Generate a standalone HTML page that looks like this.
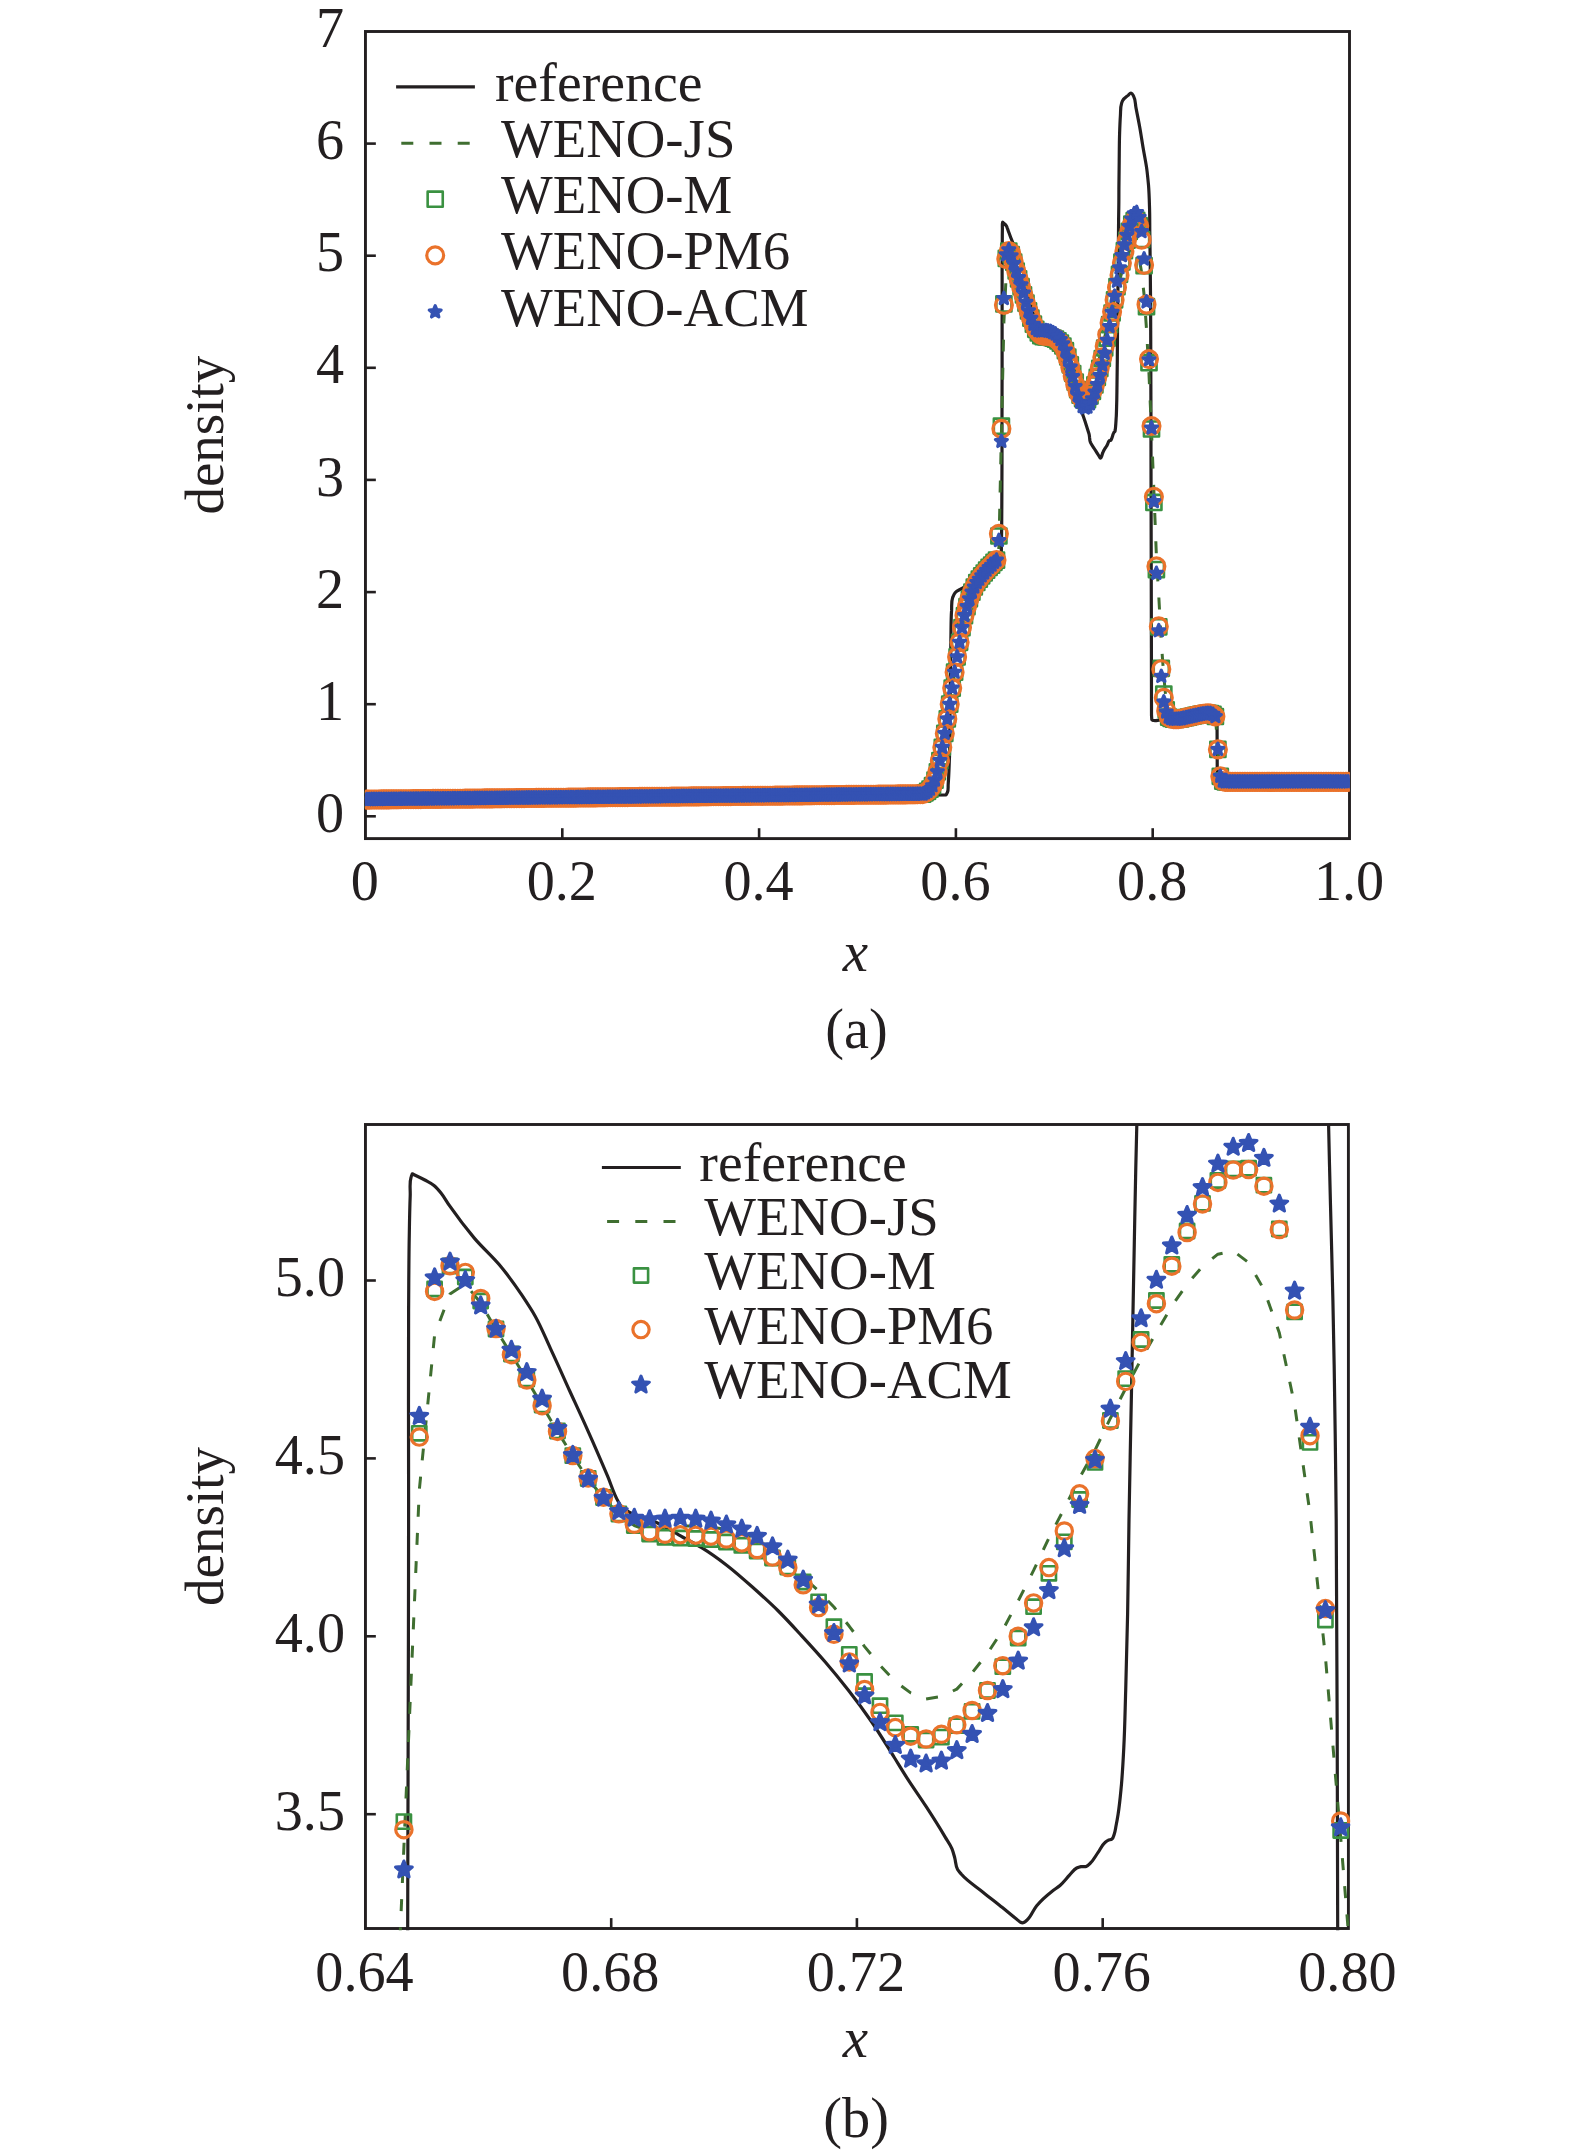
<!DOCTYPE html>
<html lang="en"><head><meta charset="utf-8"><title>density</title>
<style>html,body{margin:0;padding:0;background:#fff}svg{display:block}text{font-family:"Liberation Serif",serif;font-size:55.0px;fill:#231f20}.t{font-size:56.2px}.r{font-size:55.8px}.w{font-size:54.8px}.i{font-style:italic;font-size:57px}.c{font-size:56.3px}.fr{fill:none;stroke:#231f20;stroke-width:2.9}.tk{stroke:#231f20;stroke-width:2.6;fill:none}.rf{fill:none;stroke:#231f20;stroke-width:3.2;stroke-linejoin:round}.js{fill:none;stroke:#3f6e30;stroke-width:3;stroke-dasharray:12 16.2;stroke-linejoin:round}.m{fill:none;stroke:none}</style></head><body>
<svg width="1575" height="2154" viewBox="0 0 1575 2154">
<rect width="1575" height="2154" fill="#fff"/>
<defs>
<marker id="qa" markerUnits="userSpaceOnUse" markerWidth="30" markerHeight="30" refX="0" refY="0" viewBox="-15 -15 30 30" overflow="visible" orient="0"><rect x="-7.55" y="-7.55" width="15.1" height="15.1" fill="none" stroke="#3a9141" stroke-width="2.6" stroke-linejoin="round"/></marker>
<marker id="ca" markerUnits="userSpaceOnUse" markerWidth="30" markerHeight="30" refX="0" refY="0" viewBox="-15 -15 30 30" overflow="visible" orient="0"><circle r="8.45" fill="none" stroke="#ea722b" stroke-width="3.2"/></marker>
<marker id="sa" markerUnits="userSpaceOnUse" markerWidth="30" markerHeight="30" refX="0" refY="0" viewBox="-15 -15 30 30" overflow="visible" orient="0"><path d="M0.00,-6.30L1.63,-2.24L5.99,-1.95L2.64,0.86L3.70,5.10L0.00,2.77L-3.70,5.10L-2.64,0.86L-5.99,-1.95L-1.63,-2.24Z" fill="#3452b3" stroke="#3452b3" stroke-width="3.1" stroke-linejoin="round"/></marker>
<marker id="qb" markerUnits="userSpaceOnUse" markerWidth="30" markerHeight="30" refX="0" refY="0" viewBox="-15 -15 30 30" overflow="visible" orient="0"><rect x="-7.1" y="-7.1" width="14.2" height="14.2" fill="none" stroke="#3a9141" stroke-width="2.6" stroke-linejoin="round"/></marker>
<marker id="cb" markerUnits="userSpaceOnUse" markerWidth="30" markerHeight="30" refX="0" refY="0" viewBox="-15 -15 30 30" overflow="visible" orient="0"><circle r="8.15" fill="none" stroke="#ea722b" stroke-width="3.2"/></marker>
<marker id="sb" markerUnits="userSpaceOnUse" markerWidth="30" markerHeight="30" refX="0" refY="0" viewBox="-15 -15 30 30" overflow="visible" orient="0"><path d="M0.00,-8.80L2.28,-3.13L8.37,-2.72L3.68,1.20L5.17,7.12L0.00,3.87L-5.17,7.12L-3.68,1.20L-8.37,-2.72L-2.28,-3.13Z" fill="#3452b3" stroke="#3452b3" stroke-width="3.1" stroke-linejoin="round"/></marker>
<clipPath id="clipA"><rect x="364.9" y="30.1" width="984.9" height="809.9"/></clipPath>
<clipPath id="clipB"><rect x="364.9" y="1123.0" width="985.6" height="807.2"/></clipPath>
</defs>
<g id="panel-a">
<rect class="fr" x="365.45" y="31.5" width="984.05" height="807.1"/>
<path class="tk" d="M365.45 816.3h10.4"/>
<path class="tk" d="M365.45 704.2h10.4"/>
<path class="tk" d="M365.45 592.1h10.4"/>
<path class="tk" d="M365.45 479.9h10.4"/>
<path class="tk" d="M365.45 367.8h10.4"/>
<path class="tk" d="M365.45 255.7h10.4"/>
<path class="tk" d="M365.45 143.6h10.4"/>
<path class="tk" d="M562.3 838.6v-10.4"/>
<path class="tk" d="M759.1 838.6v-10.4"/>
<path class="tk" d="M955.9 838.6v-10.4"/>
<path class="tk" d="M1152.7 838.6v-10.4"/>
<g clip-path="url(#clipA)">
<path class="rf" d="M365.4 799.5C545.9 798.1 726.3 796.6 906.7 795.2C919.8 795.1 932.9 795.1 946.0 795.0C946.5 794.1 947.1 793.2 947.5 792.2C948.5 789.7 948.0 787.0 948.2 784.3C948.9 775.1 949.1 765.7 949.5 756.4C949.9 717.0 950.4 677.5 950.9 638.0C951.1 628.8 950.9 619.5 951.6 610.2C951.8 606.0 951.2 601.6 952.6 597.7C953.3 595.9 953.9 594.1 955.1 592.7C956.7 590.8 959.2 590.0 961.4 588.7C962.3 588.2 963.2 587.7 964.1 587.1C968.2 584.7 971.9 581.6 975.6 578.6C979.0 575.8 982.1 572.6 985.4 569.6C988.7 566.6 992.0 563.7 995.2 560.7C997.3 558.8 999.3 556.9 1001.3 555.1C1001.5 545.0 1001.6 534.9 1001.7 524.8C1001.8 503.1 1002.0 481.4 1002.0 459.7C1002.0 446.3 1002.0 432.9 1002.0 419.4C1002.1 402.6 1002.1 385.8 1002.1 369.0C1002.1 354.3 1002.1 339.6 1002.1 324.9C1002.2 304.9 1002.1 285.0 1002.1 265.0C1002.2 257.0 1002.2 249.0 1002.3 241.0C1002.3 237.1 1002.3 233.1 1002.4 229.1C1002.4 227.1 1002.2 225.1 1002.5 223.1C1002.6 222.7 1002.7 222.4 1002.7 222.1C1003.4 222.7 1004.1 223.3 1004.7 224.0C1005.3 224.6 1005.8 225.2 1006.3 225.8C1006.7 226.5 1007.0 227.3 1007.3 228.1C1007.9 229.4 1008.2 230.8 1008.7 232.1C1009.9 235.6 1011.2 239.0 1012.7 242.3C1014.0 245.4 1015.7 248.3 1016.9 251.4C1018.2 254.3 1019.3 257.3 1020.3 260.3C1021.0 262.5 1021.8 264.7 1022.4 266.9C1023.4 270.3 1024.1 273.8 1024.9 277.2C1025.9 281.6 1026.9 286.0 1027.9 290.4C1028.9 294.8 1030.0 299.2 1031.0 303.6C1032.0 308.2 1033.0 312.8 1034.0 317.4C1034.6 320.0 1034.9 322.7 1035.7 325.3C1035.9 326.0 1036.0 326.7 1036.3 327.2C1036.6 327.8 1037.1 328.2 1037.5 328.7C1038.1 329.4 1038.9 329.8 1039.7 330.4C1040.4 330.9 1041.2 331.4 1041.9 332.0C1042.5 332.5 1043.1 333.2 1043.7 333.8C1044.3 334.5 1044.8 335.2 1045.4 335.9C1046.6 337.2 1047.9 338.5 1049.1 339.9C1050.6 341.6 1051.9 343.6 1053.1 345.5C1054.6 347.7 1055.9 350.0 1057.2 352.3C1058.6 354.7 1060.0 357.2 1061.3 359.7C1062.6 362.3 1063.8 365.0 1065.1 367.6C1066.4 370.4 1067.7 373.2 1069.0 376.1C1070.2 379.0 1071.5 381.9 1072.6 384.9C1073.9 388.1 1075.1 391.4 1076.3 394.7C1077.6 398.4 1078.7 402.2 1079.9 406.0C1080.6 408.2 1081.3 410.3 1082.0 412.5C1083.0 415.5 1084.1 418.5 1085.1 421.5C1086.1 424.7 1087.1 427.9 1088.1 431.1C1088.5 432.3 1088.9 433.5 1089.2 434.7C1089.4 435.7 1089.5 436.7 1089.6 437.7C1089.8 438.9 1089.7 440.2 1090.1 441.3C1090.3 441.8 1090.5 442.3 1090.7 442.8C1091.6 444.9 1093.0 446.6 1094.2 448.5C1095.2 450.1 1096.3 451.7 1097.3 453.3C1098.1 454.6 1098.9 455.9 1099.7 457.2C1099.9 457.5 1099.9 457.7 1100.2 457.9C1100.3 458.0 1100.3 458.1 1100.5 458.1C1100.6 458.1 1100.7 458.0 1100.8 457.9C1101.0 457.7 1101.1 457.5 1101.2 457.2C1102.0 455.9 1102.1 454.2 1102.8 452.7C1103.4 451.1 1104.3 449.6 1105.2 448.2C1105.6 447.6 1106.1 447.0 1106.5 446.3C1107.1 445.3 1107.5 444.2 1108.0 443.1C1108.4 442.3 1108.5 441.4 1109.2 440.8C1109.4 440.7 1109.6 440.5 1109.9 440.4C1110.1 440.3 1110.4 440.5 1110.7 440.3C1111.0 440.2 1111.1 439.7 1111.3 439.4C1111.9 438.3 1112.2 437.1 1112.6 435.9C1113.0 434.9 1113.1 433.7 1113.7 432.8C1113.8 432.6 1114.0 432.3 1114.2 432.1C1114.4 431.9 1114.6 431.9 1114.8 431.7C1115.2 431.3 1115.1 430.6 1115.2 430.1C1115.3 429.3 1115.4 428.4 1115.5 427.6C1115.6 426.4 1115.7 425.1 1115.8 423.9C1116.0 421.3 1116.1 418.7 1116.3 416.1C1116.5 411.7 1116.6 407.3 1116.7 402.9C1116.9 396.9 1116.9 390.9 1117.0 384.9C1117.1 376.9 1117.2 368.9 1117.3 360.9C1117.4 351.0 1117.5 341.1 1117.5 331.2C1117.7 318.1 1117.8 305.1 1117.9 292.0C1118.1 276.0 1118.2 260.0 1118.4 244.0C1118.5 236.0 1118.5 228.0 1118.6 220.0C1118.7 215.6 1118.7 211.2 1118.8 206.8C1118.9 200.7 1118.9 194.5 1118.9 188.4C1119.0 179.5 1119.1 170.5 1119.2 161.5C1119.3 152.2 1119.3 142.8 1119.6 133.5C1119.8 127.5 1120.0 121.5 1120.4 115.5C1120.7 111.4 1120.3 107.1 1121.6 103.2C1121.9 102.3 1122.2 101.4 1122.7 100.5C1123.9 98.3 1126.2 97.0 1128.1 95.4C1129.0 94.6 1129.8 93.0 1131.0 93.0C1132.6 93.1 1133.0 95.4 1133.8 96.7C1135.7 100.0 1135.2 104.2 1136.0 107.9C1137.2 114.1 1138.5 120.3 1139.6 126.5C1140.9 133.6 1141.9 140.7 1143.1 147.8C1144.3 154.9 1145.8 162.0 1146.8 169.1C1147.5 174.4 1148.0 179.7 1148.5 185.0C1149.1 192.2 1149.3 199.5 1149.5 206.8C1149.8 215.2 1149.7 223.6 1149.8 232.0C1149.9 242.0 1150.1 252.0 1150.2 262.0C1150.4 276.0 1150.5 290.0 1150.6 304.0C1150.6 313.0 1150.7 322.0 1150.7 331.0C1151.0 373.9 1150.9 416.8 1151.0 459.7C1151.1 522.5 1151.3 585.3 1151.4 648.1C1151.4 670.5 1151.5 693.0 1151.5 715.4C1151.6 716.8 1151.7 718.2 1151.8 719.7C1152.3 719.9 1152.7 720.2 1153.2 720.4C1155.3 721.4 1157.8 720.0 1160.1 719.9C1167.4 719.4 1174.9 720.5 1182.2 719.7C1188.9 718.9 1195.3 716.6 1201.9 715.4C1206.5 714.5 1211.0 713.2 1215.7 713.1C1216.1 713.1 1216.6 713.1 1217.0 713.1C1217.1 736.1 1217.2 759.0 1217.3 781.9C1261.4 781.9 1305.4 781.9 1349.5 781.9"/>
<polyline class="js" points="366.7,799.6 369.1,799.6 371.6,799.5 374.1,799.5 376.5,799.5 379,799.5 381.4,799.4 383.9,799.4 386.4,799.4 388.8,799.4 391.3,799.3 393.7,799.3 396.2,799.3 398.7,799.3 401.1,799.2 403.6,799.2 406,799.2 408.5,799.2 411,799.2 413.4,799.1 415.9,799.1 418.3,799.1 420.8,799.1 423.3,799 425.7,799 428.2,799 430.6,799 433.1,798.9 435.6,798.9 438,798.9 440.5,798.9 442.9,798.8 445.4,798.8 447.9,798.8 450.3,798.8 452.8,798.7 455.2,798.7 457.7,798.7 460.2,798.7 462.6,798.7 465.1,798.6 467.5,798.6 470,798.6 472.5,798.6 474.9,798.5 477.4,798.5 479.8,798.5 482.3,798.5 484.8,798.4 487.2,798.4 489.7,798.4 492.1,798.4 494.6,798.3 497.1,798.3 499.5,798.3 502,798.3 504.4,798.2 506.9,798.2 509.4,798.2 511.8,798.2 514.3,798.2 516.7,798.1 519.2,798.1 521.7,798.1 524.1,798.1 526.6,798 529,798 531.5,798 534,798 536.4,797.9 538.9,797.9 541.3,797.9 543.8,797.9 546.3,797.8 548.7,797.8 551.2,797.8 553.6,797.8 556.1,797.7 558.6,797.7 561,797.7 563.5,797.7 566,797.7 568.4,797.6 570.9,797.6 573.3,797.6 575.8,797.6 578.3,797.5 580.7,797.5 583.2,797.5 585.6,797.5 588.1,797.4 590.6,797.4 593,797.4 595.5,797.4 597.9,797.3 600.4,797.3 602.9,797.3 605.3,797.3 607.8,797.2 610.2,797.2 612.7,797.2 615.2,797.2 617.6,797.2 620.1,797.1 622.5,797.1 625,797.1 627.5,797.1 629.9,797 632.4,797 634.8,797 637.3,797 639.8,796.9 642.2,796.9 644.7,796.9 647.1,796.9 649.6,796.8 652.1,796.8 654.5,796.8 657,796.8 659.4,796.7 661.9,796.7 664.4,796.7 666.8,796.7 669.3,796.7 671.7,796.6 674.2,796.6 676.7,796.6 679.1,796.6 681.6,796.5 684,796.5 686.5,796.5 689,796.5 691.4,796.4 693.9,796.4 696.3,796.4 698.8,796.4 701.3,796.3 703.7,796.3 706.2,796.3 708.6,796.3 711.1,796.2 713.6,796.2 716,796.2 718.5,796.2 720.9,796.2 723.4,796.1 725.9,796.1 728.3,796.1 730.8,796.1 733.2,796 735.7,796 738.2,796 740.6,796 743.1,795.9 745.5,795.9 748,795.9 750.5,795.9 752.9,795.8 755.4,795.8 757.8,795.8 760.3,795.8 762.8,795.7 765.2,795.7 767.7,795.7 770.1,795.7 772.6,795.7 775.1,795.6 777.5,795.6 780,795.6 782.4,795.6 784.9,795.5 787.4,795.5 789.8,795.5 792.3,795.5 794.7,795.4 797.2,795.4 799.7,795.4 802.1,795.4 804.6,795.3 807,795.3 809.5,795.3 812,795.3 814.4,795.2 816.9,795.2 819.3,795.2 821.8,795.2 824.3,795.2 826.7,795.1 829.2,795.1 831.6,795.1 834.1,795.1 836.6,795 839,795 841.5,795 843.9,795 846.4,794.9 848.9,794.9 851.3,794.9 853.8,794.9 856.2,794.8 858.7,794.8 861.2,794.8 863.6,794.8 866.1,794.7 868.5,794.7 871,794.7 873.5,794.7 875.9,794.7 878.4,794.6 880.8,794.6 883.3,794.6 885.8,794.6 888.2,794.5 890.7,794.5 893.1,794.5 895.6,794.5 898.1,794.4 900.5,794.4 903,794.4 905.4,794.4 907.9,794.3 910.4,794.3 912.8,790.9 915.3,790.9 917.7,790.9 920.2,790.9 922.7,790.8 925.1,789.4 927.6,787.9 930,785.8 932.5,782.3 935,776.7 937.4,768.4 939.9,757.2 942.3,747.3 944.8,733.4 947.3,718.9 949.7,704.2 952.2,688.1 954.6,672.2 957.1,656.9 959.6,642.3 962,627.6 964.5,615.6 967,606.6 969.4,598.8 971.9,592.1 974.3,587 976.8,582.5 979.3,579.2 981.7,575.8 984.2,573 986.6,570.2 989.1,567.4 991.6,565.2 994,562.3 996.5,560.1 998.9,547.2 1001.4,434.2 1003.9,321.7 1006.3,272.9 1008.8,260 1011.2,256.8 1013.7,262.8 1016.2,271.1 1018.6,279 1021.1,286.9 1023.5,295.1 1026,303.3 1028.5,311 1030.9,318.3 1033.4,324.2 1035.8,329.4 1038.3,332.9 1040.8,334.6 1043.2,333.4 1045.7,333.1 1048.1,333.1 1050.6,333.4 1053.1,334.2 1055.5,335.4 1058,337.5 1060.4,340.2 1062.9,344.1 1065.4,349.1 1067.8,353.5 1070.3,358.6 1072.7,364.7 1075.2,371.1 1077.7,377 1080.1,382 1082.6,385.6 1085,387.6 1087.5,386.8 1090,384.5 1092.4,379.4 1094.9,373.2 1097.3,365.8 1099.8,356.7 1102.3,347 1104.7,336.8 1107.2,327.5 1109.6,317.9 1112.1,309.2 1114.6,299.1 1117,289.7 1119.5,280.6 1121.9,272.1 1124.4,263.8 1126.9,256.9 1129.3,251.3 1131.8,247.4 1134.2,246.4 1136.7,250 1139.2,258.5 1141.6,272.2 1144.1,294.8 1146.5,329.1 1149,374.2 1151.5,431.2 1153.9,491.2 1156.4,556.2 1158.8,596.5 1161.3,642.5 1163.8,676.1 1166.2,701.9 1168.7,713.1 1171.1,718.5 1173.6,719.2 1176.1,719.3 1178.5,719.1 1181,718.8 1183.4,718.2 1185.9,717.6 1188.4,717.1 1190.8,716.5 1193.3,716 1195.7,715.4 1198.2,714.8 1200.7,714.3 1203.1,713.9 1205.6,713.6 1208,713.4 1210.5,713.5 1213,714.3 1215.4,716.5 1217.9,749.4 1220.3,776.3 1222.8,781.1 1225.3,781.9 1227.7,781.9 1230.2,781.9 1232.6,781.9 1235.1,781.9 1237.6,781.9 1240,781.9 1242.5,781.9 1244.9,781.9 1247.4,781.9 1249.9,781.9 1252.3,781.9 1254.8,781.9 1257.2,781.9 1259.7,781.9 1262.2,781.9 1264.6,781.9 1267.1,781.9 1269.5,781.9 1272,781.9 1274.5,781.9 1276.9,781.9 1279.4,781.9 1281.8,781.9 1284.3,781.9 1286.8,781.9 1289.2,781.9 1291.7,781.9 1294.1,781.9 1296.6,781.9 1299.1,781.9 1301.5,781.9 1304,781.9 1306.4,781.9 1308.9,781.9 1311.4,781.9 1313.8,781.9 1316.3,781.9 1318.7,781.9 1321.2,781.9 1323.7,781.9 1326.1,781.9 1328.6,781.9 1331,781.9 1333.5,781.9 1336,781.9 1338.4,781.9 1340.9,781.9 1343.3,781.9 1345.8,781.9 1348.3,781.9"/>
<polyline class="m" marker-start="url(#qa)" marker-mid="url(#qa)" marker-end="url(#qa)" points="366.7,799.6 369.1,799.6 371.6,799.5 374.1,799.5 376.5,799.5 379,799.5 381.4,799.4 383.9,799.4 386.4,799.4 388.8,799.4 391.3,799.3 393.7,799.3 396.2,799.3 398.7,799.3 401.1,799.2 403.6,799.2 406,799.2 408.5,799.2 411,799.2 413.4,799.1 415.9,799.1 418.3,799.1 420.8,799.1 423.3,799 425.7,799 428.2,799 430.6,799 433.1,798.9 435.6,798.9 438,798.9 440.5,798.9 442.9,798.8 445.4,798.8 447.9,798.8 450.3,798.8 452.8,798.7 455.2,798.7 457.7,798.7 460.2,798.7 462.6,798.7 465.1,798.6 467.5,798.6 470,798.6 472.5,798.6 474.9,798.5 477.4,798.5 479.8,798.5 482.3,798.5 484.8,798.4 487.2,798.4 489.7,798.4 492.1,798.4 494.6,798.3 497.1,798.3 499.5,798.3 502,798.3 504.4,798.2 506.9,798.2 509.4,798.2 511.8,798.2 514.3,798.2 516.7,798.1 519.2,798.1 521.7,798.1 524.1,798.1 526.6,798 529,798 531.5,798 534,798 536.4,797.9 538.9,797.9 541.3,797.9 543.8,797.9 546.3,797.8 548.7,797.8 551.2,797.8 553.6,797.8 556.1,797.7 558.6,797.7 561,797.7 563.5,797.7 566,797.7 568.4,797.6 570.9,797.6 573.3,797.6 575.8,797.6 578.3,797.5 580.7,797.5 583.2,797.5 585.6,797.5 588.1,797.4 590.6,797.4 593,797.4 595.5,797.4 597.9,797.3 600.4,797.3 602.9,797.3 605.3,797.3 607.8,797.2 610.2,797.2 612.7,797.2 615.2,797.2 617.6,797.2 620.1,797.1 622.5,797.1 625,797.1 627.5,797.1 629.9,797 632.4,797 634.8,797 637.3,797 639.8,796.9 642.2,796.9 644.7,796.9 647.1,796.9 649.6,796.8 652.1,796.8 654.5,796.8 657,796.8 659.4,796.7 661.9,796.7 664.4,796.7 666.8,796.7 669.3,796.7 671.7,796.6 674.2,796.6 676.7,796.6 679.1,796.6 681.6,796.5 684,796.5 686.5,796.5 689,796.5 691.4,796.4 693.9,796.4 696.3,796.4 698.8,796.4 701.3,796.3 703.7,796.3 706.2,796.3 708.6,796.3 711.1,796.2 713.6,796.2 716,796.2 718.5,796.2 720.9,796.2 723.4,796.1 725.9,796.1 728.3,796.1 730.8,796.1 733.2,796 735.7,796 738.2,796 740.6,796 743.1,795.9 745.5,795.9 748,795.9 750.5,795.9 752.9,795.8 755.4,795.8 757.8,795.8 760.3,795.8 762.8,795.7 765.2,795.7 767.7,795.7 770.1,795.7 772.6,795.7 775.1,795.6 777.5,795.6 780,795.6 782.4,795.6 784.9,795.5 787.4,795.5 789.8,795.5 792.3,795.5 794.7,795.4 797.2,795.4 799.7,795.4 802.1,795.4 804.6,795.3 807,795.3 809.5,795.3 812,795.3 814.4,795.2 816.9,795.2 819.3,795.2 821.8,795.2 824.3,795.2 826.7,795.1 829.2,795.1 831.6,795.1 834.1,795.1 836.6,795 839,795 841.5,795 843.9,795 846.4,794.9 848.9,794.9 851.3,794.9 853.8,794.9 856.2,794.8 858.7,794.8 861.2,794.8 863.6,794.8 866.1,794.7 868.5,794.7 871,794.7 873.5,794.7 875.9,794.7 878.4,794.6 880.8,794.6 883.3,794.6 885.8,794.6 888.2,794.5 890.7,794.5 893.1,794.5 895.6,794.5 898.1,794.4 900.5,794.4 903,794.4 905.4,794.4 907.9,794.3 910.4,794.3 912.8,794.3 915.3,794.3 917.7,794.2 920.2,794.2 922.7,794.2 925.1,792.8 927.6,791.3 930,789.2 932.5,785.7 935,780.1 937.4,771.8 939.9,760.6 942.3,747.3 944.8,733.4 947.3,718.9 949.7,704.2 952.2,688.1 954.6,672.2 957.1,656.9 959.6,642.3 962,627.6 964.5,615.6 967,606.6 969.4,598.8 971.9,592.1 974.3,587 976.8,582.5 979.3,579.2 981.7,575.8 984.2,573 986.6,570.2 989.1,567.4 991.6,565.2 994,562.3 996.5,560.1 998.9,536 1001.4,426.2 1003.9,303.9 1006.3,258.4 1008.8,251.1 1011.2,254.6 1013.7,262.2 1016.2,271 1018.6,278.9 1021.1,286.7 1023.5,294.9 1026,303.1 1028.5,310.9 1030.9,318.1 1033.4,324.1 1035.8,329.3 1038.3,332.9 1040.8,335.6 1043.2,336.6 1045.7,336.8 1048.1,337 1050.6,337.3 1053.1,338.1 1055.5,339.1 1058,340.9 1060.4,343.1 1062.9,346 1065.4,350.7 1067.8,357 1070.3,364.8 1072.7,373.5 1075.2,382.1 1077.7,389.7 1080.1,395.1 1082.6,398.7 1085,400.5 1087.5,399.6 1090,396 1092.4,391.5 1094.9,384.9 1097.3,377.4 1099.8,368.4 1102.3,358.5 1104.7,348 1107.2,338.1 1109.6,324.7 1112.1,313 1114.6,299.8 1117,286.6 1119.5,274.3 1121.9,262 1124.4,250.6 1126.9,240.1 1129.3,231.4 1131.8,224.2 1134.2,220.6 1136.7,220.3 1139.2,225.7 1141.6,239.5 1144.1,265.6 1146.5,306.7 1149,362.7 1151.5,429 1153.9,502.4 1156.4,569.6 1158.8,626.8 1161.3,668.3 1163.8,694.1 1166.2,709.8 1168.7,717.1 1171.1,718.5 1173.6,719.2 1176.1,719.3 1178.5,719.1 1181,718.8 1183.4,718.2 1185.9,717.6 1188.4,717.1 1190.8,716.5 1193.3,716 1195.7,715.4 1198.2,714.8 1200.7,714.3 1203.1,713.9 1205.6,713.6 1208,713.4 1210.5,713.5 1213,714.3 1215.4,716.5 1217.9,749.4 1220.3,776.3 1222.8,781.1 1225.3,781.9 1227.7,781.9 1230.2,781.9 1232.6,781.9 1235.1,781.9 1237.6,781.9 1240,781.9 1242.5,781.9 1244.9,781.9 1247.4,781.9 1249.9,781.9 1252.3,781.9 1254.8,781.9 1257.2,781.9 1259.7,781.9 1262.2,781.9 1264.6,781.9 1267.1,781.9 1269.5,781.9 1272,781.9 1274.5,781.9 1276.9,781.9 1279.4,781.9 1281.8,781.9 1284.3,781.9 1286.8,781.9 1289.2,781.9 1291.7,781.9 1294.1,781.9 1296.6,781.9 1299.1,781.9 1301.5,781.9 1304,781.9 1306.4,781.9 1308.9,781.9 1311.4,781.9 1313.8,781.9 1316.3,781.9 1318.7,781.9 1321.2,781.9 1323.7,781.9 1326.1,781.9 1328.6,781.9 1331,781.9 1333.5,781.9 1336,781.9 1338.4,781.9 1340.9,781.9 1343.3,781.9 1345.8,781.9 1348.3,781.9"/>
<polyline class="m" marker-start="url(#ca)" marker-mid="url(#ca)" marker-end="url(#ca)" points="366.7,799.6 369.1,799.6 371.6,799.5 374.1,799.5 376.5,799.5 379,799.5 381.4,799.4 383.9,799.4 386.4,799.4 388.8,799.4 391.3,799.3 393.7,799.3 396.2,799.3 398.7,799.3 401.1,799.2 403.6,799.2 406,799.2 408.5,799.2 411,799.2 413.4,799.1 415.9,799.1 418.3,799.1 420.8,799.1 423.3,799 425.7,799 428.2,799 430.6,799 433.1,798.9 435.6,798.9 438,798.9 440.5,798.9 442.9,798.8 445.4,798.8 447.9,798.8 450.3,798.8 452.8,798.7 455.2,798.7 457.7,798.7 460.2,798.7 462.6,798.7 465.1,798.6 467.5,798.6 470,798.6 472.5,798.6 474.9,798.5 477.4,798.5 479.8,798.5 482.3,798.5 484.8,798.4 487.2,798.4 489.7,798.4 492.1,798.4 494.6,798.3 497.1,798.3 499.5,798.3 502,798.3 504.4,798.2 506.9,798.2 509.4,798.2 511.8,798.2 514.3,798.2 516.7,798.1 519.2,798.1 521.7,798.1 524.1,798.1 526.6,798 529,798 531.5,798 534,798 536.4,797.9 538.9,797.9 541.3,797.9 543.8,797.9 546.3,797.8 548.7,797.8 551.2,797.8 553.6,797.8 556.1,797.7 558.6,797.7 561,797.7 563.5,797.7 566,797.7 568.4,797.6 570.9,797.6 573.3,797.6 575.8,797.6 578.3,797.5 580.7,797.5 583.2,797.5 585.6,797.5 588.1,797.4 590.6,797.4 593,797.4 595.5,797.4 597.9,797.3 600.4,797.3 602.9,797.3 605.3,797.3 607.8,797.2 610.2,797.2 612.7,797.2 615.2,797.2 617.6,797.2 620.1,797.1 622.5,797.1 625,797.1 627.5,797.1 629.9,797 632.4,797 634.8,797 637.3,797 639.8,796.9 642.2,796.9 644.7,796.9 647.1,796.9 649.6,796.8 652.1,796.8 654.5,796.8 657,796.8 659.4,796.7 661.9,796.7 664.4,796.7 666.8,796.7 669.3,796.7 671.7,796.6 674.2,796.6 676.7,796.6 679.1,796.6 681.6,796.5 684,796.5 686.5,796.5 689,796.5 691.4,796.4 693.9,796.4 696.3,796.4 698.8,796.4 701.3,796.3 703.7,796.3 706.2,796.3 708.6,796.3 711.1,796.2 713.6,796.2 716,796.2 718.5,796.2 720.9,796.2 723.4,796.1 725.9,796.1 728.3,796.1 730.8,796.1 733.2,796 735.7,796 738.2,796 740.6,796 743.1,795.9 745.5,795.9 748,795.9 750.5,795.9 752.9,795.8 755.4,795.8 757.8,795.8 760.3,795.8 762.8,795.7 765.2,795.7 767.7,795.7 770.1,795.7 772.6,795.7 775.1,795.6 777.5,795.6 780,795.6 782.4,795.6 784.9,795.5 787.4,795.5 789.8,795.5 792.3,795.5 794.7,795.4 797.2,795.4 799.7,795.4 802.1,795.4 804.6,795.3 807,795.3 809.5,795.3 812,795.3 814.4,795.2 816.9,795.2 819.3,795.2 821.8,795.2 824.3,795.2 826.7,795.1 829.2,795.1 831.6,795.1 834.1,795.1 836.6,795 839,795 841.5,795 843.9,795 846.4,794.9 848.9,794.9 851.3,794.9 853.8,794.9 856.2,794.8 858.7,794.8 861.2,794.8 863.6,794.8 866.1,794.7 868.5,794.7 871,794.7 873.5,794.7 875.9,794.7 878.4,794.6 880.8,794.6 883.3,794.6 885.8,794.6 888.2,794.5 890.7,794.5 893.1,794.5 895.6,794.5 898.1,794.4 900.5,794.4 903,794.4 905.4,794.4 907.9,794.3 910.4,794.3 912.8,794.3 915.3,794.3 917.7,794.2 920.2,794.2 922.7,794.2 925.1,792.8 927.6,791.3 930,789.2 932.5,785.7 935,780.1 937.4,771.8 939.9,760.6 942.3,747.3 944.8,733.4 947.3,718.9 949.7,704.2 952.2,688.1 954.6,672.2 957.1,656.9 959.6,642.3 962,627.6 964.5,615.6 967,606.6 969.4,598.8 971.9,592.1 974.3,587 976.8,582.5 979.3,579.2 981.7,575.8 984.2,573 986.6,570.2 989.1,567.4 991.6,565.2 994,562.3 996.5,560.1 998.9,533.8 1001.4,428.8 1003.9,305 1006.3,259.1 1008.8,251 1011.2,253.1 1013.7,261.4 1016.2,270.9 1018.6,279.1 1021.1,287.1 1023.5,295.2 1026,303.3 1028.5,310.9 1030.9,318 1033.4,324 1035.8,329.2 1038.3,332.5 1040.8,334.9 1043.2,335.7 1045.7,335.8 1048.1,336 1050.6,336.3 1053.1,337.2 1055.5,338.4 1058,340.5 1060.4,342.9 1062.9,346.2 1065.4,351.6 1067.8,358.8 1070.3,367.2 1072.7,375.9 1075.2,384.6 1077.7,391.8 1080.1,396.6 1082.6,399.3 1085,400.2 1087.5,398.7 1090,395.7 1092.4,391.2 1094.9,384.9 1097.3,377.1 1099.8,367.8 1102.3,357.3 1104.7,346.2 1107.2,334.6 1109.6,322.9 1112.1,311.8 1114.6,299.9 1117,287.5 1119.5,275.2 1121.9,263 1124.4,251.2 1126.9,240.6 1129.3,231.6 1131.8,224.8 1134.2,220.9 1136.7,220.8 1139.2,226 1141.6,239.7 1144.1,265 1146.5,304.6 1149,359.1 1151.5,426 1153.9,496.8 1156.4,566.3 1158.8,626.4 1161.3,669.2 1163.8,697.8 1166.2,710.9 1168.7,717.1 1171.1,718.5 1173.6,719.2 1176.1,719.3 1178.5,719.1 1181,718.8 1183.4,718.2 1185.9,717.6 1188.4,717.1 1190.8,716.5 1193.3,716 1195.7,715.4 1198.2,714.8 1200.7,714.3 1203.1,713.9 1205.6,713.6 1208,713.4 1210.5,713.5 1213,714.3 1215.4,716.5 1217.9,749.4 1220.3,776.3 1222.8,781.1 1225.3,781.9 1227.7,781.9 1230.2,781.9 1232.6,781.9 1235.1,781.9 1237.6,781.9 1240,781.9 1242.5,781.9 1244.9,781.9 1247.4,781.9 1249.9,781.9 1252.3,781.9 1254.8,781.9 1257.2,781.9 1259.7,781.9 1262.2,781.9 1264.6,781.9 1267.1,781.9 1269.5,781.9 1272,781.9 1274.5,781.9 1276.9,781.9 1279.4,781.9 1281.8,781.9 1284.3,781.9 1286.8,781.9 1289.2,781.9 1291.7,781.9 1294.1,781.9 1296.6,781.9 1299.1,781.9 1301.5,781.9 1304,781.9 1306.4,781.9 1308.9,781.9 1311.4,781.9 1313.8,781.9 1316.3,781.9 1318.7,781.9 1321.2,781.9 1323.7,781.9 1326.1,781.9 1328.6,781.9 1331,781.9 1333.5,781.9 1336,781.9 1338.4,781.9 1340.9,781.9 1343.3,781.9 1345.8,781.9 1348.3,781.9"/>
<polyline class="m" marker-start="url(#sa)" marker-mid="url(#sa)" marker-end="url(#sa)" points="366.7,799.6 369.1,799.6 371.6,799.5 374.1,799.5 376.5,799.5 379,799.5 381.4,799.4 383.9,799.4 386.4,799.4 388.8,799.4 391.3,799.3 393.7,799.3 396.2,799.3 398.7,799.3 401.1,799.2 403.6,799.2 406,799.2 408.5,799.2 411,799.2 413.4,799.1 415.9,799.1 418.3,799.1 420.8,799.1 423.3,799 425.7,799 428.2,799 430.6,799 433.1,798.9 435.6,798.9 438,798.9 440.5,798.9 442.9,798.8 445.4,798.8 447.9,798.8 450.3,798.8 452.8,798.7 455.2,798.7 457.7,798.7 460.2,798.7 462.6,798.7 465.1,798.6 467.5,798.6 470,798.6 472.5,798.6 474.9,798.5 477.4,798.5 479.8,798.5 482.3,798.5 484.8,798.4 487.2,798.4 489.7,798.4 492.1,798.4 494.6,798.3 497.1,798.3 499.5,798.3 502,798.3 504.4,798.2 506.9,798.2 509.4,798.2 511.8,798.2 514.3,798.2 516.7,798.1 519.2,798.1 521.7,798.1 524.1,798.1 526.6,798 529,798 531.5,798 534,798 536.4,797.9 538.9,797.9 541.3,797.9 543.8,797.9 546.3,797.8 548.7,797.8 551.2,797.8 553.6,797.8 556.1,797.7 558.6,797.7 561,797.7 563.5,797.7 566,797.7 568.4,797.6 570.9,797.6 573.3,797.6 575.8,797.6 578.3,797.5 580.7,797.5 583.2,797.5 585.6,797.5 588.1,797.4 590.6,797.4 593,797.4 595.5,797.4 597.9,797.3 600.4,797.3 602.9,797.3 605.3,797.3 607.8,797.2 610.2,797.2 612.7,797.2 615.2,797.2 617.6,797.2 620.1,797.1 622.5,797.1 625,797.1 627.5,797.1 629.9,797 632.4,797 634.8,797 637.3,797 639.8,796.9 642.2,796.9 644.7,796.9 647.1,796.9 649.6,796.8 652.1,796.8 654.5,796.8 657,796.8 659.4,796.7 661.9,796.7 664.4,796.7 666.8,796.7 669.3,796.7 671.7,796.6 674.2,796.6 676.7,796.6 679.1,796.6 681.6,796.5 684,796.5 686.5,796.5 689,796.5 691.4,796.4 693.9,796.4 696.3,796.4 698.8,796.4 701.3,796.3 703.7,796.3 706.2,796.3 708.6,796.3 711.1,796.2 713.6,796.2 716,796.2 718.5,796.2 720.9,796.2 723.4,796.1 725.9,796.1 728.3,796.1 730.8,796.1 733.2,796 735.7,796 738.2,796 740.6,796 743.1,795.9 745.5,795.9 748,795.9 750.5,795.9 752.9,795.8 755.4,795.8 757.8,795.8 760.3,795.8 762.8,795.7 765.2,795.7 767.7,795.7 770.1,795.7 772.6,795.7 775.1,795.6 777.5,795.6 780,795.6 782.4,795.6 784.9,795.5 787.4,795.5 789.8,795.5 792.3,795.5 794.7,795.4 797.2,795.4 799.7,795.4 802.1,795.4 804.6,795.3 807,795.3 809.5,795.3 812,795.3 814.4,795.2 816.9,795.2 819.3,795.2 821.8,795.2 824.3,795.2 826.7,795.1 829.2,795.1 831.6,795.1 834.1,795.1 836.6,795 839,795 841.5,795 843.9,795 846.4,794.9 848.9,794.9 851.3,794.9 853.8,794.9 856.2,794.8 858.7,794.8 861.2,794.8 863.6,794.8 866.1,794.7 868.5,794.7 871,794.7 873.5,794.7 875.9,794.7 878.4,794.6 880.8,794.6 883.3,794.6 885.8,794.6 888.2,794.5 890.7,794.5 893.1,794.5 895.6,794.5 898.1,794.4 900.5,794.4 903,794.4 905.4,794.4 907.9,794.3 910.4,794.3 912.8,794.3 915.3,794.3 917.7,794.2 920.2,794.2 922.7,794.2 925.1,792.8 927.6,791.3 930,789.2 932.5,785.7 935,780.1 937.4,771.8 939.9,760.6 942.3,747.3 944.8,733.4 947.3,718.9 949.7,704.2 952.2,688.1 954.6,672.2 957.1,656.9 959.6,642.3 962,627.6 964.5,615.6 967,606.6 969.4,598.8 971.9,592.1 974.3,587 976.8,582.5 979.3,579.2 981.7,575.8 984.2,573 986.6,570.2 989.1,567.4 991.6,565.2 994,562.3 996.5,560.1 998.9,540.5 1001.4,441.4 1003.9,298.5 1006.3,254.8 1008.8,249.8 1011.2,255.7 1013.7,263.6 1016.2,271 1018.6,277.6 1021.1,284.7 1023.5,293 1026,302.2 1028.5,310.8 1030.9,318.3 1033.4,324.3 1035.8,328.5 1038.3,330.6 1040.8,331 1043.2,330.9 1045.7,330.6 1048.1,330.9 1050.6,331.5 1053.1,332.7 1055.5,334 1058,336.3 1060.4,339.6 1062.9,343.8 1065.4,350.1 1067.8,357.9 1070.3,366.9 1072.7,376.5 1075.2,386.5 1077.7,395 1080.1,402.2 1082.6,406.5 1085,408 1087.5,407.1 1090,403.8 1092.4,398.7 1094.9,392.1 1097.3,384.6 1099.8,375.6 1102.3,365.1 1104.7,353.4 1107.2,340.2 1109.6,326.5 1112.1,312.3 1114.6,296.2 1117,281.2 1119.5,267.7 1121.9,255.6 1124.4,244.8 1126.9,235.2 1129.3,226.4 1131.8,219 1134.2,213.7 1136.7,212.5 1139.2,217.2 1141.6,231.6 1144.1,259 1146.5,301.9 1149,359.7 1151.5,428.1 1153.9,501.6 1156.4,573.3 1158.8,630.7 1161.3,676.4 1163.8,701.9 1166.2,712 1168.7,717.1 1171.1,718.5 1173.6,719.2 1176.1,719.3 1178.5,719.1 1181,718.8 1183.4,718.2 1185.9,717.6 1188.4,717.1 1190.8,716.5 1193.3,716 1195.7,715.4 1198.2,714.8 1200.7,714.3 1203.1,713.9 1205.6,713.6 1208,713.4 1210.5,713.5 1213,714.3 1215.4,716.5 1217.9,749.4 1220.3,776.3 1222.8,781.1 1225.3,781.9 1227.7,781.9 1230.2,781.9 1232.6,781.9 1235.1,781.9 1237.6,781.9 1240,781.9 1242.5,781.9 1244.9,781.9 1247.4,781.9 1249.9,781.9 1252.3,781.9 1254.8,781.9 1257.2,781.9 1259.7,781.9 1262.2,781.9 1264.6,781.9 1267.1,781.9 1269.5,781.9 1272,781.9 1274.5,781.9 1276.9,781.9 1279.4,781.9 1281.8,781.9 1284.3,781.9 1286.8,781.9 1289.2,781.9 1291.7,781.9 1294.1,781.9 1296.6,781.9 1299.1,781.9 1301.5,781.9 1304,781.9 1306.4,781.9 1308.9,781.9 1311.4,781.9 1313.8,781.9 1316.3,781.9 1318.7,781.9 1321.2,781.9 1323.7,781.9 1326.1,781.9 1328.6,781.9 1331,781.9 1333.5,781.9 1336,781.9 1338.4,781.9 1340.9,781.9 1343.3,781.9 1345.8,781.9 1348.3,781.9"/>
</g>
<text class="t" x="344" y="831.9" text-anchor="end">0</text>
<text class="t" x="344" y="719.8" text-anchor="end">1</text>
<text class="t" x="344" y="607.7" text-anchor="end">2</text>
<text class="t" x="344" y="495.5" text-anchor="end">3</text>
<text class="t" x="344" y="383.4" text-anchor="end">4</text>
<text class="t" x="344" y="271.3" text-anchor="end">5</text>
<text class="t" x="344" y="159.2" text-anchor="end">6</text>
<text class="t" x="344" y="47.1" text-anchor="end">7</text>
<text class="t" x="364.9" y="900.4" text-anchor="middle">0</text>
<text class="t" x="561.8" y="900.4" text-anchor="middle">0.2</text>
<text class="t" x="758.6" y="900.4" text-anchor="middle">0.4</text>
<text class="t" x="955.4" y="900.4" text-anchor="middle">0.6</text>
<text class="t" x="1152.2" y="900.4" text-anchor="middle">0.8</text>
<text class="t" x="1349" y="900.4" text-anchor="middle">1.0</text>
<text class="i" x="855.3" y="970.6" text-anchor="middle">x</text>
<text class="c" x="856.6" y="1048.4" text-anchor="middle">(a)</text>
<text transform="translate(223.4 435.1) rotate(-90)" text-anchor="middle">density</text>
<path class="rf" d="M396.1 86.9H474.9"/>
<path d="M396.1 143.2H474.9" fill="none" stroke="#3f6e30" stroke-width="3" stroke-dasharray="12 16.2" stroke-dashoffset="-5.2"/>
<polyline class="m" marker-start="url(#qa)" marker-mid="url(#qa)" marker-end="url(#qa)" points="435.2,199.2"/>
<polyline class="m" marker-start="url(#ca)" marker-mid="url(#ca)" marker-end="url(#ca)" points="435.2,255.4"/>
<polyline class="m" marker-start="url(#sa)" marker-mid="url(#sa)" marker-end="url(#sa)" points="435.2,311.9"/>
<text class="r" x="495.0" y="100.7">reference</text>
<text class="w" x="501.0" y="156.9">WENO-JS</text>
<text class="w" x="501.0" y="213.1">WENO-M</text>
<text class="w" x="501.0" y="269.3">WENO-PM6</text>
<text class="w" x="501.0" y="325.5">WENO-ACM</text>
</g>
<g id="panel-b">
<rect class="fr" x="365.45" y="1124.5" width="982.95" height="804.0"/>
<path class="tk" d="M365.45 1814.2h10.4"/>
<path class="tk" d="M365.45 1636.3h10.4"/>
<path class="tk" d="M365.45 1458.4h10.4"/>
<path class="tk" d="M365.45 1280.5h10.4"/>
<path class="tk" d="M611.2 1928.5v-10.4"/>
<path class="tk" d="M856.9 1928.5v-10.4"/>
<path class="tk" d="M1102.7 1928.5v-10.4"/>
<g clip-path="url(#clipB)">
<path class="rf" d="M407.7 1960.0C407.7 1949.3 407.7 1938.7 407.7 1928.0C407.7 1885.3 407.9 1842.7 408.0 1800.0C408.1 1746.7 408.3 1693.3 408.4 1640.0C408.5 1593.3 408.6 1546.7 408.6 1500.0C408.7 1436.7 408.2 1373.3 408.6 1310.0C408.8 1284.7 408.8 1259.3 409.3 1234.0C409.5 1221.3 409.7 1208.7 410.2 1196.0C410.5 1189.7 409.2 1183.0 411.1 1177.0C411.4 1175.9 411.9 1174.9 412.3 1173.8C416.5 1175.9 420.7 1177.7 424.8 1180.0C428.0 1181.8 431.5 1183.3 434.3 1185.7C436.8 1187.8 438.9 1190.4 441.0 1193.0C444.2 1197.0 446.6 1201.5 449.5 1205.7C457.3 1216.9 465.5 1227.7 474.3 1238.1C482.7 1248.0 492.7 1256.6 501.0 1266.7C508.5 1275.8 515.3 1285.4 521.9 1295.2C526.5 1302.1 531.1 1309.0 535.2 1316.2C541.1 1326.6 545.5 1337.8 550.5 1348.6C557.0 1362.5 563.2 1376.5 569.5 1390.5C575.9 1404.5 582.4 1418.4 588.6 1432.4C595.1 1446.9 601.4 1461.6 607.6 1476.2C611.2 1484.6 613.6 1493.6 618.2 1501.5C619.4 1503.5 620.4 1505.8 622.0 1507.5C624.0 1509.6 626.7 1510.7 629.2 1512.1C633.5 1514.5 638.4 1515.7 643.0 1517.5C647.5 1519.2 652.1 1520.5 656.5 1522.5C660.4 1524.3 664.2 1526.4 668.0 1528.5C671.6 1530.5 675.1 1532.8 678.7 1534.9C686.2 1539.3 694.2 1543.0 701.6 1547.6C710.4 1553.0 718.8 1559.1 727.0 1565.4C735.8 1572.2 744.1 1579.6 752.4 1587.0C761.0 1594.7 769.6 1602.4 777.8 1610.5C786.0 1618.6 793.7 1627.1 801.5 1635.6C809.7 1644.5 817.8 1653.3 825.7 1662.5C833.6 1671.7 841.2 1681.0 848.6 1690.5C856.5 1700.6 864.1 1710.9 871.4 1721.5C879.5 1733.2 886.7 1745.4 894.3 1757.5C898.6 1764.4 902.7 1771.3 907.1 1778.1C913.3 1787.8 920.0 1797.1 926.2 1806.7C932.7 1816.7 939.1 1826.8 945.2 1837.1C947.5 1840.9 950.2 1844.5 951.9 1848.6C953.2 1851.7 953.9 1854.9 954.8 1858.1C955.8 1861.9 955.6 1866.1 957.6 1869.5C958.6 1871.3 960.1 1872.7 961.4 1874.3C967.6 1881.5 975.9 1886.4 983.3 1892.4C989.6 1897.5 996.1 1902.5 1002.4 1907.6C1007.5 1911.7 1012.4 1916.0 1017.6 1920.0C1018.6 1920.7 1019.4 1921.7 1020.5 1922.2C1021.1 1922.5 1021.7 1922.8 1022.4 1922.8C1023.1 1922.8 1023.7 1922.5 1024.3 1922.2C1025.4 1921.7 1026.2 1920.8 1027.1 1920.0C1031.4 1916.2 1033.0 1910.1 1036.7 1905.7C1041.1 1900.3 1046.4 1895.7 1051.9 1891.4C1054.5 1889.3 1057.5 1887.7 1060.0 1885.5C1063.5 1882.5 1066.3 1878.6 1069.5 1875.2C1071.9 1872.8 1073.7 1869.5 1076.7 1868.0C1078.1 1867.3 1079.5 1866.9 1081.0 1866.6C1082.7 1866.3 1084.6 1867.0 1086.2 1866.4C1087.7 1865.8 1088.8 1864.6 1090.0 1863.5C1093.4 1860.5 1095.4 1856.1 1098.1 1852.4C1100.4 1849.1 1101.9 1845.1 1105.0 1842.5C1105.9 1841.7 1106.9 1840.9 1108.0 1840.3C1109.2 1839.6 1110.9 1839.9 1112.0 1839.0C1113.4 1837.9 1113.7 1835.7 1114.3 1834.0C1115.2 1831.4 1115.5 1828.7 1116.0 1826.0C1116.8 1822.1 1117.5 1818.2 1118.1 1814.3C1119.4 1806.1 1120.2 1797.8 1121.0 1789.5C1122.4 1775.6 1123.1 1761.6 1123.8 1747.6C1124.8 1728.6 1125.1 1709.5 1125.7 1690.5C1126.5 1665.1 1127.1 1639.7 1127.6 1614.3C1128.2 1582.9 1128.5 1551.4 1129.0 1520.0C1129.7 1478.6 1130.6 1437.1 1131.4 1395.7C1132.4 1344.9 1133.3 1294.1 1134.3 1243.3C1134.8 1217.9 1135.2 1192.5 1135.8 1167.1C1136.1 1153.1 1136.5 1139.2 1136.8 1125.2"/>
<path class="rf" d="M1328.6 1125.2C1329.2 1151.9 1329.8 1178.5 1330.5 1205.2C1331.3 1237.0 1332.2 1268.7 1332.9 1300.5C1333.9 1344.9 1334.6 1389.4 1335.2 1433.8C1335.6 1462.4 1335.9 1490.9 1336.2 1519.5C1337.6 1655.7 1336.9 1791.8 1337.7 1928.0C1337.8 1938.7 1337.8 1949.3 1337.9 1960.0"/>
<polyline class="js" points="373.2,2246.5 388.5,2205.6 403.9,1847 419.3,1490 434.6,1335 450,1294 465.3,1284 480.7,1303 496,1329.5 511.4,1354.5 526.8,1379.5 542.1,1405.5 557.5,1431.5 572.8,1456.1 588.2,1479 603.5,1498 618.9,1514.5 634.3,1525.5 649.6,1531 665,1527 680.3,1526 695.7,1526 711,1527 726.4,1529.5 741.8,1533.5 757.1,1540 772.5,1548.5 787.8,1561 803.2,1577 818.6,1591 833.9,1607 849.3,1626.3 864.6,1646.6 880,1665.3 895.3,1681.4 910.7,1692.9 926.1,1699 941.4,1696.5 956.8,1689.1 972.1,1672.9 987.5,1653.4 1002.8,1629.9 1018.2,1600.9 1033.6,1570.4 1048.9,1538 1064.3,1508.4 1079.6,1477.7 1095,1450.1 1110.4,1418.2 1125.7,1388.4 1141.1,1359.4 1156.4,1332.4 1171.8,1306.1 1187.1,1284.2 1202.5,1266.5 1217.9,1254.2 1233.2,1250.9 1248.6,1262.6 1263.9,1289.5 1279.3,1332.8 1294.6,1404.7 1310,1513.5 1325.4,1656.6 1340.7,1837.6 1356.1,2027.7 1371.4,2234 1386.8,2362.1"/>
<polyline class="m" marker-start="url(#qb)" marker-mid="url(#qb)" marker-end="url(#qb)" points="388.5,2170 403.9,1821.6 419.3,1433.3 434.6,1289 450,1266 465.3,1277 480.7,1301 496,1329 511.4,1354 526.8,1379 542.1,1405 557.5,1431 572.8,1455.6 588.2,1478.5 603.5,1497.5 618.9,1514 634.3,1525.5 649.6,1534 665,1537.3 680.3,1538 695.7,1538.5 711,1539.5 726.4,1542 741.8,1545.3 757.1,1551 772.5,1558 787.8,1567 803.2,1582 818.6,1601.9 833.9,1626.7 849.3,1654.3 864.6,1681.5 880,1705.7 895.3,1722.9 910.7,1734.3 926.1,1740 941.4,1737.1 956.8,1725.7 972.1,1711.4 987.5,1690.5 1002.8,1666.7 1018.2,1638 1033.6,1606.7 1048.9,1573.3 1064.3,1541.9 1079.6,1499.5 1095,1462.4 1110.4,1420.5 1125.7,1378.6 1141.1,1339.5 1156.4,1300.5 1171.8,1264.3 1187.1,1231 1202.5,1203.3 1217.9,1180.5 1233.2,1169 1248.6,1168.1 1263.9,1185.2 1279.3,1229 1294.6,1311.9 1310,1442.4 1325.4,1620 1340.7,1830.5 1356.1,2063.3 1371.4,2276.7"/>
<polyline class="m" marker-start="url(#cb)" marker-mid="url(#cb)" marker-end="url(#cb)" points="388.5,2162.9 403.9,1829.7 419.3,1437.1 434.6,1291.4 450,1265.7 465.3,1272.4 480.7,1298.5 496,1328.6 511.4,1354.7 526.8,1380 542.1,1405.7 557.5,1431.4 572.8,1455.6 588.2,1478.1 603.5,1497.3 618.9,1513.8 634.3,1524.3 649.6,1531.8 665,1534.3 680.3,1534.7 695.7,1535.2 711,1536.2 726.4,1539 741.8,1542.9 757.1,1549.5 772.5,1557.1 787.8,1567.6 803.2,1584.8 818.6,1607.6 833.9,1634.3 849.3,1661.9 864.6,1689.5 880,1712.4 895.3,1727.6 910.7,1736.2 926.1,1739 941.4,1734.3 956.8,1724.8 972.1,1710.5 987.5,1690.5 1002.8,1665.7 1018.2,1636.2 1033.6,1602.9 1048.9,1567.6 1064.3,1531 1079.6,1493.8 1095,1458.6 1110.4,1420.9 1125.7,1381.4 1141.1,1342.4 1156.4,1303.7 1171.8,1266.2 1187.1,1232.5 1202.5,1203.9 1217.9,1182.4 1233.2,1170 1248.6,1169.6 1263.9,1186.2 1279.3,1229.6 1294.6,1310 1310,1435.7 1325.4,1608.6 1340.7,1821 1356.1,2045.5 1371.4,2266.1"/>
<polyline class="m" marker-start="url(#sb)" marker-mid="url(#sb)" marker-end="url(#sb)" points="388.5,2184.2 403.9,1869.8 419.3,1416.2 434.6,1277.7 450,1261.9 465.3,1280.4 480.7,1305.7 496,1329.1 511.4,1350.1 526.8,1372.4 542.1,1399 557.5,1428.2 572.8,1455.2 588.2,1479 603.5,1498.1 618.9,1511.4 634.3,1518.1 649.6,1519.6 665,1519 680.3,1518.1 695.7,1519 711,1521 726.4,1524.8 741.8,1529 757.1,1536.2 772.5,1546.7 787.8,1560 803.2,1580 818.6,1604.8 833.9,1633.3 849.3,1663.8 864.6,1695.7 880,1722.5 895.3,1745.3 910.7,1759 926.1,1763.8 941.4,1761 956.8,1750.5 972.1,1734.3 987.5,1713.3 1002.8,1689.5 1018.2,1661 1033.6,1627.6 1048.9,1590.5 1064.3,1548.6 1079.6,1505.2 1095,1460.1 1110.4,1409 1125.7,1361.4 1141.1,1318.6 1156.4,1280.1 1171.8,1245.8 1187.1,1215.3 1202.5,1187.5 1217.9,1163.9 1233.2,1147.1 1248.6,1143.3 1263.9,1158.2 1279.3,1203.9 1294.6,1291 1310,1427.1 1325.4,1610.5 1340.7,1827.6 1356.1,2060.8 1371.4,2288.5"/>
</g>
<text class="t" x="345" y="1829.6" text-anchor="end">3.5</text>
<text class="t" x="345" y="1651.7" text-anchor="end">4.0</text>
<text class="t" x="345" y="1473.8" text-anchor="end">4.5</text>
<text class="t" x="345" y="1295.9" text-anchor="end">5.0</text>
<text class="t" x="364.5" y="1990.6" text-anchor="middle">0.64</text>
<text class="t" x="610.2" y="1990.6" text-anchor="middle">0.68</text>
<text class="t" x="855.9" y="1990.6" text-anchor="middle">0.72</text>
<text class="t" x="1101.7" y="1990.6" text-anchor="middle">0.76</text>
<text class="t" x="1347.4" y="1990.6" text-anchor="middle">0.80</text>
<text class="i" x="855.3" y="2056.8" text-anchor="middle">x</text>
<text class="c" x="856.2" y="2136.8" text-anchor="middle">(b)</text>
<text transform="translate(223.4 1526.5) rotate(-90)" text-anchor="middle">density</text>
<path class="rf" d="M601.9 1167.5H680.8"/>
<path d="M601.9 1221.5H680.8" fill="none" stroke="#3f6e30" stroke-width="3" stroke-dasharray="12 16.2" stroke-dashoffset="-5.2"/>
<polyline class="m" marker-start="url(#qb)" marker-mid="url(#qb)" marker-end="url(#qb)" points="641.0,1275.5"/>
<polyline class="m" marker-start="url(#cb)" marker-mid="url(#cb)" marker-end="url(#cb)" points="641.0,1329.6"/>
<polyline class="m" marker-start="url(#sb)" marker-mid="url(#sb)" marker-end="url(#sb)" points="641.0,1384.9"/>
<text class="r" x="699.3" y="1181">reference</text>
<text class="w" x="704.3" y="1235.2">WENO-JS</text>
<text class="w" x="704.3" y="1289.4">WENO-M</text>
<text class="w" x="704.3" y="1343.6">WENO-PM6</text>
<text class="w" x="704.3" y="1397.8">WENO-ACM</text>
</g>
</svg></body></html>
